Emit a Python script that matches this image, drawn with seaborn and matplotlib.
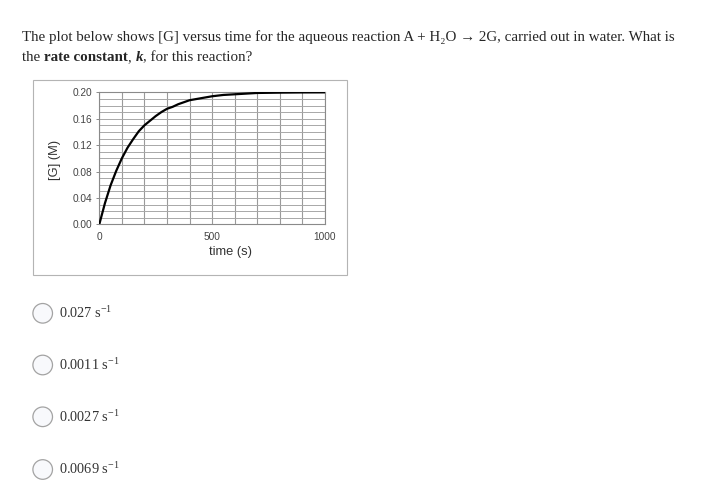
import matplotlib
matplotlib.use("Agg")
import matplotlib.pyplot as plt
from matplotlib.patches import Rectangle, Circle
from matplotlib.text import Annotation
from matplotlib.ticker import MultipleLocator
import seaborn as sns

# values
time_s = [0, 25, 50, 75, 100, 125, 150, 175, 200, 225, 250, 275, 300, 325, 350,
          375, 400, 450, 500, 550, 600, 700, 800, 900, 1000]
conc_g = [0.000, 0.032, 0.059, 0.081, 0.100, 0.116, 0.129, 0.141, 0.150, 0.157,
          0.164, 0.170, 0.175, 0.178, 0.182, 0.185, 0.188, 0.191, 0.194, 0.196,
          0.197, 0.199, 0.1995, 0.1998, 0.1999]
x_ticks = [0, 500, 1000]
y_ticks = [0.00, 0.04, 0.08, 0.12, 0.16, 0.20]
answer_choices = ["0.027", "0.0011", "0.0027", "0.0069"]

W, H = 702, 492
sns.set_theme(style="white")
plt.rcParams["font.family"] = ["Liberation Sans", "DejaVu Sans"]
plt.rcParams["mathtext.fontset"] = "custom"
plt.rcParams["mathtext.rm"] = "Liberation Serif"
plt.rcParams["mathtext.it"] = "Liberation Serif:italic"
plt.rcParams["mathtext.bf"] = "Liberation Serif:bold"

fig = plt.figure(figsize=(W / 100, H / 100), dpi=100)
fig.patch.set_facecolor("white")

# --- plot frame box ---
fig.add_artist(Rectangle((32.5 / W, 1 - 275 / H), (347 - 32.5) / W, (275 - 80.5) / H,
                         transform=fig.transFigure, fill=False,
                         edgecolor="#b4b4b4", lw=0.8))

# --- axes ---
ax_l, ax_r, ax_t, ax_b = 99.3, 325.0, 92.3, 224.3
ax = fig.add_axes([ax_l / W, 1 - ax_b / H, (ax_r - ax_l) / W, (ax_b - ax_t) / H])
ax.set_facecolor("white")
sns.lineplot(x=time_s, y=conc_g, ax=ax, color="black", lw=1.6, zorder=5)
ax.set_xlim(0, 1000)
ax.set_ylim(0, 0.20)
ax.set_xticks(x_ticks)
ax.set_yticks(y_ticks)
ax.set_yticklabels([f"{v:.2f}" for v in y_ticks])
ax.xaxis.set_minor_locator(MultipleLocator(100))
ax.yaxis.set_minor_locator(MultipleLocator(0.01))
ax.grid(which="both", axis="x", color="#9a9a9a", lw=0.8)
ax.grid(which="both", axis="y", color="#a8a8a8", lw=0.7)
for s in ax.spines.values():
    s.set_color("#8a8a8a")
    s.set_linewidth(0.8)
ax.tick_params(which="major", length=2.5, width=0.7, color="#8a8a8a",
               labelsize=7.3, labelcolor="#444444", direction="out")
ax.tick_params(axis="x", which="major", pad=3.0)
ax.tick_params(axis="y", which="major", pad=2.5, left=True)
ax.tick_params(which="minor", length=0)
ax.set_xlabel("time (s)", fontsize=9.3, color="#333333")
ax.set_ylabel("[G] (M)", fontsize=9.3, color="#333333")
ax.xaxis.label.set_va("center")
ax.yaxis.label.set_va("center")
ax.xaxis.set_label_coords(0.582, -0.207)
ax.yaxis.set_label_coords(-0.196, 0.487)

# --- question text ---
serif = ["Liberation Serif", "DejaVu Serif"]
qcol = "#262626"
qsize = 10.8
fig.text(22 / W, 1 - 37 / H,
         "The plot below shows [G] versus time for the aqueous reaction "
         "A + H\u2082O \u2192 2G, carried out in water. What is",
         family=serif, fontsize=qsize, color=qcol, va="center", ha="left")
prev = fig.text(22 / W, 1 - 57.5 / H, "the ", family=serif, fontsize=qsize,
                color=qcol, va="center", ha="left")
for piece, wt, st in [("rate constant", "bold", "normal"), (", ", "normal", "normal"),
                      ("k", "bold", "italic"), (", for this reaction?", "normal", "normal")]:
    prev = fig.add_artist(Annotation(piece, xy=(1, 0), xycoords=prev, va="bottom",
                                     ha="left", family=serif, fontsize=qsize,
                                     color=qcol, weight=wt, style=st))

# --- answer choices ---
for i, val in enumerate(answer_choices):
    yc = [313.3, 365.0, 416.8, 469.5][i]
    fig.add_artist(Circle((42.7 / 100, (H - yc) / 100), 0.098,
                          transform=fig.dpi_scale_trans, facecolor="#f8f9fc",
                          edgecolor="#a3a3a3", lw=0.9))
    fig.text(59 / W, 1 - yc / H, val + r" s$^{-1}$", family=serif, fontsize=10.3,
             color="#333333", va="center", ha="left")

fig.savefig("out.png", dpi=100, facecolor="white")
